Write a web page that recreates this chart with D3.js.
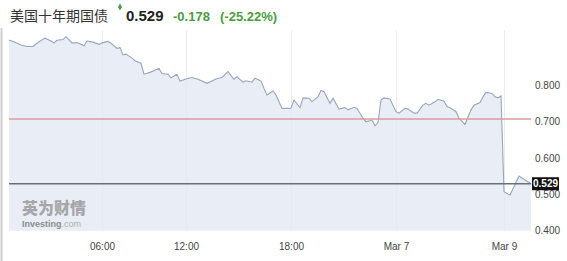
<!DOCTYPE html>
<html>
<head>
<meta charset="utf-8">
<script src="https://cdn.jsdelivr.net/npm/d3@7"></script>
<style>
  body { margin: 0; background: #fff; }
  svg { display: block; font-family: "Liberation Sans", Arial, sans-serif; }
</style>
</head>
<body>
<div id="chart"></div>
<script>
// bar slot (position along the trading timeline) and yield value
let slots = [0, 2, 4, 6, 8, 10, 12, 14, 15, 16, 18, 19, 21, 23, 25, 26, 28, 30, 31, 33,
    34, 36, 37, 38, 39, 41, 42, 44, 45, 47, 50, 51, 53, 54, 56, 57, 59, 61, 63, 66,
    69, 71, 73, 75, 76, 78, 79, 81, 82, 84, 85, 86, 88, 89, 91, 93, 94, 95, 97, 98,
    100, 101, 103, 104, 105, 107, 108, 110, 112, 113, 115, 116, 118, 119, 121, 122, 123, 124, 125, 127,
    129, 130, 132, 133, 135, 136, 138, 139, 140, 142, 143, 145, 146, 147, 149, 150, 152, 154, 155, 157,
    158, 159, 161, 162, 163, 164, 165, 167, 170, 171, 174];
let yields = [0.924, 0.918, 0.910, 0.906, 0.906, 0.919, 0.929, 0.921, 0.916, 0.923, 0.925, 0.933, 0.916, 0.916, 0.908, 0.921, 0.918, 0.912, 0.916, 0.920,
    0.915, 0.901, 0.903, 0.883, 0.885, 0.874, 0.867, 0.860, 0.830, 0.835, 0.846, 0.832, 0.830, 0.820, 0.830, 0.811, 0.817, 0.821, 0.816, 0.805,
    0.817, 0.821, 0.837, 0.816, 0.823, 0.808, 0.812, 0.808, 0.819, 0.811, 0.791, 0.773, 0.784, 0.773, 0.736, 0.736, 0.737, 0.759, 0.738, 0.765,
    0.764, 0.754, 0.768, 0.785, 0.782, 0.750, 0.764, 0.734, 0.738, 0.732, 0.739, 0.736, 0.709, 0.699, 0.704, 0.688, 0.697, 0.759, 0.765, 0.762,
    0.727, 0.723, 0.736, 0.734, 0.723, 0.723, 0.745, 0.750, 0.745, 0.754, 0.761, 0.756, 0.741, 0.738, 0.727, 0.709, 0.692, 0.732, 0.745, 0.752,
    0.768, 0.780, 0.777, 0.768, 0.765, 0.770, 0.507, 0.498, 0.550, 0.545, 0.529];

let tick_slots = [31, 59, 94, 129, 165];
let tick_labels = ["06:00", "12:00", "18:00", "Mar 7", "Mar 9"];
let y_ticks = [0.4, 0.5, 0.6, 0.7, 0.8];

let title = "美国十年期国债";
let last_price = 0.529;
let change = "-0.178";
let change_pct = "(-25.22%)";
let prev_close = 0.707;

let width = 567;
let height = 261;

let svg = d3.select("#chart")
    .append("svg")
    .attr("width", width)
    .attr("height", height);

let xScale = d3.scaleLinear()
    .domain([0, 174])
    .range([9, 531]);

let yScale = d3.scaleLinear()
    .domain([0.4, 0.95])
    .range([230.7, 30.5]);

// left border
svg.append("line")
    .attr("x1", 1.5).attr("x2", 1.5)
    .attr("y1", 28).attr("y2", height)
    .attr("stroke", "#cfcfcf")
    .attr("stroke-width", 2);

// faint vertical grid in the white part
svg.selectAll(".vgrid")
    .data(tick_slots)
    .enter()
    .append("line")
    .attr("x1", function(d) { return Math.round(xScale(d)) + 0.5; })
    .attr("x2", function(d) { return Math.round(xScale(d)) + 0.5; })
    .attr("y1", yScale.range()[1])
    .attr("y2", yScale.range()[0])
    .attr("stroke", "#f1f2f5");

let data = slots.map(function(s, i) { return [s, yields[i]]; });

let area = d3.area()
    .x(function(d) { return xScale(d[0]); })
    .y0(yScale(0.4))
    .y1(function(d) { return yScale(d[1]); });

let line = d3.line()
    .x(function(d) { return xScale(d[0]); })
    .y(function(d) { return yScale(d[1]); });

svg.append("path")
    .attr("d", area(data))
    .attr("fill", "#e9edf5");

// and over the fill
svg.selectAll(".vgrid2")
    .data(tick_slots)
    .enter()
    .append("line")
    .attr("x1", function(d) { return Math.round(xScale(d)) + 0.5; })
    .attr("x2", function(d) { return Math.round(xScale(d)) + 0.5; })
    .attr("y1", yScale.range()[1])
    .attr("y2", yScale.range()[0])
    .attr("stroke", "#e4e7ec")
    .attr("stroke-opacity", 0.6);

svg.append("path")
    .attr("d", line(data))
    .attr("fill", "none")
    .attr("stroke", "#97a6b9")
    .attr("stroke-width", 1.1);

// previous close
svg.append("line")
    .attr("x1", xScale(0)).attr("x2", xScale(174))
    .attr("y1", yScale(prev_close)).attr("y2", yScale(prev_close))
    .attr("stroke", "#d99c9c")
    .attr("stroke-width", 1.5);

// last price
svg.append("line")
    .attr("x1", xScale(0)).attr("x2", xScale(174))
    .attr("y1", yScale(last_price)).attr("y2", yScale(last_price))
    .attr("stroke", "#6b6f75")
    .attr("stroke-width", 1.5);

// watermark
svg.append("text")
    .attr("x", 22)
    .attr("y", 214)
    .style("font-family", "'Noto Sans CJK SC', sans-serif")
    .style("font-size", "16px")
    .style("font-weight", "900")
    .attr("fill", "#9a9a9a")
    .attr("fill-opacity", 0.85)
    .text("英为财情");

let wm = svg.append("text")
    .attr("x", 22)
    .attr("y", 227)
    .style("font-size", "9px")
    .attr("fill", "#8c8c8c");
wm.append("tspan").style("font-weight", "bold").text("Investing");
wm.append("tspan").attr("fill", "#b0b0b0").text(".com");

// axes
let y_axis = svg.append("g")
    .attr("transform", "translate(531,0)")
    .call(d3.axisRight(yScale).tickValues(y_ticks).tickSize(0).tickPadding(4).tickFormat(d3.format(".3f")));
y_axis.select(".domain").remove();
y_axis.selectAll("text")
    .style("font-size", "10px")
    .style("font-family", "'Liberation Sans', Arial, sans-serif")
    .attr("fill", "#444");

let x_axis = svg.append("g")
    .attr("transform", "translate(0,231)")
    .call(d3.axisBottom(xScale).tickValues(tick_slots).tickSize(0).tickPadding(12)
        .tickFormat(function(d, i) { return tick_labels[i]; }));
x_axis.select(".domain").remove();
x_axis.selectAll("text")
    .style("font-size", "10px")
    .style("font-family", "'Liberation Sans', Arial, sans-serif")
    .attr("fill", "#444");

// last price tag
let tag_y = yScale(last_price);
svg.append("rect")
    .attr("x", 532)
    .attr("y", tag_y - 6.5)
    .attr("width", 27)
    .attr("height", 13)
    .attr("fill", "#111");
svg.append("text")
    .attr("x", 545.5)
    .attr("y", tag_y)
    .attr("dy", "0.35em")
    .attr("text-anchor", "middle")
    .style("font-size", "10px")
    .style("font-weight", "bold")
    .attr("fill", "#fff")
    .text(d3.format(".3f")(last_price));

// header
svg.append("text")
    .attr("x", 10)
    .attr("y", 21)
    .style("font-family", "'Noto Sans CJK SC', sans-serif")
    .style("font-size", "14px")
    .attr("fill", "#333")
    .text(title);

svg.append("path")
    .attr("d", d3.symbol().type(d3.symbolDiamond).size(14)())
    .attr("transform", "translate(120,7)")
    .attr("fill", "#4a9d43");

svg.append("text")
    .attr("x", 126)
    .attr("y", 21)
    .style("font-size", "15px")
    .style("font-weight", "bold")
    .attr("fill", "#222")
    .text(d3.format(".3f")(last_price));

svg.append("text")
    .attr("x", 173)
    .attr("y", 21)
    .style("font-size", "13px")
    .style("font-weight", "bold")
    .attr("fill", "#4a9d43")
    .text(change);

svg.append("text")
    .attr("x", 220)
    .attr("y", 21)
    .style("font-size", "13px")
    .style("font-weight", "bold")
    .attr("fill", "#4a9d43")
    .text(change_pct);
</script>
</body>
</html>
